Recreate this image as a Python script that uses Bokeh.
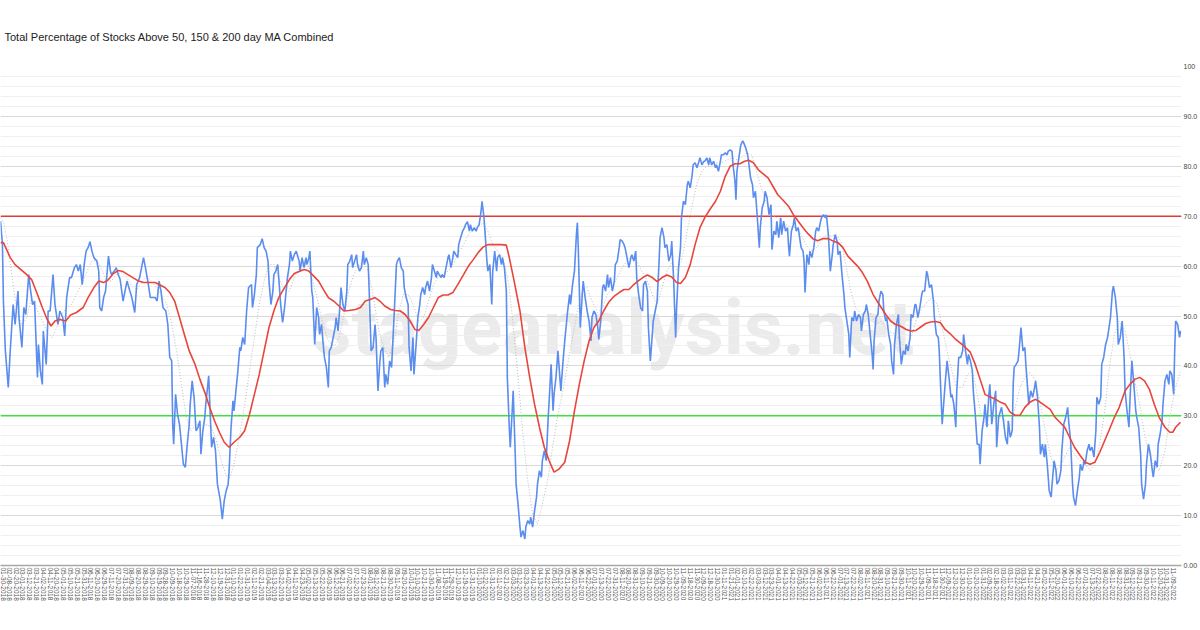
import math
import pandas as pd
from bokeh.plotting import figure
from bokeh.models import Range1d, FixedTicker, Span, Label, AllLabels
from bokeh.embed import file_html
from bokeh.resources import INLINE

title_text = "Total Percentage of Stocks Above 50, 150 & 200 day MA Combined"
watermark_text = "stageanalysis.net"

# trading calendar (x axis = trading-day number, day 0 = 01-30-2018)
first_day = "2018-01-30"
last_day = "2022-12-30"
nyse_holidays = [
    "2018-01-01", "2018-01-15", "2018-02-19", "2018-03-30", "2018-05-28", "2018-07-04",
    "2018-09-03", "2018-11-22", "2018-12-05", "2018-12-25",
    "2019-01-01", "2019-01-21", "2019-02-18", "2019-04-19", "2019-05-27", "2019-07-04",
    "2019-09-02", "2019-11-28", "2019-12-25",
    "2020-01-01", "2020-01-20", "2020-02-17", "2020-04-10", "2020-05-25", "2020-07-03",
    "2020-09-07", "2020-11-26", "2020-12-25",
    "2021-01-01", "2021-01-18", "2021-02-15", "2021-04-02", "2021-05-31", "2021-07-05",
    "2021-09-06", "2021-11-25", "2021-12-24",
    "2022-01-17", "2022-02-21", "2022-04-15", "2022-05-30", "2022-06-20", "2022-07-04",
    "2022-09-05", "2022-11-24", "2022-12-26",
]
label_every = 7
last_label_day = 1205
x_start, x_end = -2, 1212

# percentage of stocks above 50, 150 & 200 day MA combined (blue)
blue_day = [
    -2, 0, 1, 3, 6, 8, 11, 13, 16, 17,
    20, 22, 24, 27, 29, 31, 33, 36, 37, 39,
    41, 42, 45, 47, 49, 52, 54, 57, 59, 62,
    64, 66, 69, 71, 74, 76, 78, 80, 82, 84,
    86, 88, 90, 92, 94, 97, 99, 100, 102, 104,
    106, 109, 111, 112, 115, 117, 119, 121, 124, 126,
    128, 131, 133, 136, 138, 141, 143, 145, 147, 150,
    152, 155, 157, 159, 161, 163, 165, 168, 170, 172,
    174, 175, 176, 178, 180, 182, 184, 186, 188, 190,
    192, 193, 195, 197, 199, 201, 203, 204, 206, 208,
    209, 212, 214, 215, 217, 219, 221, 224, 226, 228,
    230, 232, 233, 235, 237, 238, 240, 242, 244, 245,
    247, 249, 251, 253, 256, 257, 259, 261, 262, 265,
    267, 269, 271, 273, 274, 276, 278, 279, 281, 283,
    284, 286, 288, 290, 291, 293, 295, 296, 298, 300,
    302, 305, 306, 308, 310, 312, 313, 315, 316, 318,
    319, 321, 323, 325, 326, 328, 330, 331, 333, 335,
    336, 338, 340, 342, 343, 345, 347, 348, 350, 352,
    354, 355, 357, 359, 360, 362, 364, 365, 367, 369,
    371, 372, 374, 376, 377, 379, 381, 383, 384, 386,
    388, 389, 391, 393, 394, 396, 398, 400, 401, 403,
    405, 406, 408, 410, 412, 413, 415, 417, 418, 420,
    422, 423, 425, 427, 429, 430, 432, 434, 435, 437,
    439, 441, 442, 444, 446, 447, 449, 451, 452, 454,
    456, 458, 459, 461, 463, 464, 466, 468, 469, 471,
    473, 475, 476, 478, 480, 481, 483, 485, 487, 488,
    490, 492, 493, 495, 496, 498, 499, 501, 503, 504,
    506, 508, 509, 511, 513, 514, 516, 518, 519, 521,
    522, 524, 525, 527, 528, 530, 532, 533, 535, 537,
    538, 540, 542, 543, 545, 547, 549, 550, 552, 554,
    555, 557, 559, 561, 562, 564, 566, 567, 569, 571,
    572, 574, 576, 578, 579, 581, 583, 584, 586, 588,
    590, 591, 592, 594, 596, 597, 599, 601, 603, 605,
    606, 608, 610, 612, 613, 615, 617, 618, 620, 622,
    623, 625, 627, 629, 630, 632, 634, 635, 637, 639,
    640, 642, 644, 646, 647, 649, 651, 652, 654, 656,
    658, 659, 661, 663, 664, 666, 668, 669, 671, 673,
    675, 676, 678, 680, 681, 683, 685, 687, 688, 690,
    692, 693, 695, 697, 698, 700, 702, 704, 705, 707,
    709, 710, 712, 714, 716, 717, 719, 721, 722, 724,
    726, 727, 729, 731, 733, 734, 736, 738, 739, 741,
    743, 745, 746, 748, 750, 751, 753, 754, 755, 757,
    759, 761, 762, 764, 766, 767, 769, 771, 772, 774,
    776, 778, 779, 781, 783, 784, 786, 788, 790, 791,
    793, 795, 796, 798, 800, 801, 803, 805, 807, 808,
    809, 811, 813, 814, 816, 818, 820, 821, 823, 824,
    825, 827, 829, 830, 832, 834, 836, 837, 839, 841,
    842, 844, 846, 847, 849, 851, 853, 854, 856, 858,
    859, 861, 863, 865, 866, 868, 870, 871, 873, 875,
    876, 878, 880, 882, 883, 885, 887, 888, 890, 892,
    894, 895, 896, 898, 900, 901, 903, 905, 906, 908,
    909, 911, 913, 914, 916, 917, 919, 921, 922, 924,
    926, 928, 929, 931, 933, 934, 936, 938, 939, 941,
    943, 945, 946, 948, 950, 951, 953, 955, 957, 958,
    960, 962, 963, 964, 966, 968, 969, 971, 973, 975,
    976, 978, 980, 981, 983, 985, 987, 988, 990, 992,
    993, 995, 997, 998, 1000, 1002, 1004, 1005, 1007, 1009,
    1010, 1012, 1014, 1015, 1017, 1019, 1021, 1022, 1024, 1026,
    1027, 1029, 1031, 1033, 1034, 1036, 1038, 1039, 1040, 1042,
    1044, 1045, 1047, 1049, 1051, 1052, 1054, 1055, 1057, 1059,
    1061, 1062, 1064, 1066, 1067, 1069, 1071, 1072, 1074, 1076,
    1078, 1079, 1081, 1083, 1084, 1086, 1088, 1089, 1091, 1093,
    1095, 1096, 1098, 1100, 1101, 1103, 1105, 1107, 1108, 1110,
    1112, 1113, 1115, 1117, 1118, 1120, 1122, 1124, 1125, 1127,
    1129, 1130, 1132, 1134, 1136, 1137, 1139, 1141, 1142, 1144,
    1146, 1147, 1149, 1151, 1153, 1154, 1156, 1158, 1159, 1161,
    1163, 1165, 1166, 1168, 1170, 1171, 1173, 1175, 1176, 1178,
    1180, 1182, 1183, 1185, 1187, 1188, 1190, 1192, 1193, 1195,
    1197, 1199, 1200, 1202, 1204, 1205, 1206, 1208, 1210, 1211,
]
blue_pct = [
    69.0, 64.3, 53.0, 43.0, 35.7, 43.0, 52.3, 48.3, 55.0, 49.7,
    43.7, 51.7, 50.3, 58.3, 55.0, 52.3, 53.0, 37.7, 44.3, 39.0,
    36.3, 47.0, 40.3, 51.0, 51.0, 58.3, 52.3, 48.3, 51.0, 49.7,
    46.0, 53.7, 57.7, 57.7, 59.7, 60.3, 59.0, 60.3, 56.3, 60.3,
    63.0, 63.7, 64.9, 63.0, 61.7, 61.0, 59.0, 51.7, 51.0, 53.7,
    55.0, 62.0, 59.0, 58.3, 59.0, 59.7, 58.3, 57.3, 53.0, 55.0,
    57.0, 55.0, 53.7, 50.7, 56.3, 57.7, 59.7, 61.7, 59.7, 56.3,
    53.7, 53.7, 53.7, 53.0, 57.0, 55.0, 51.7, 51.0, 48.3, 41.7,
    41.0, 28.3, 24.3, 34.3, 30.3, 28.3, 24.3, 20.3, 19.7, 24.3,
    28.3, 32.3, 37.0, 33.7, 27.0, 27.7, 29.0, 22.3, 27.0, 29.7,
    32.3, 38.0, 28.3, 23.7, 25.7, 23.0, 16.3, 13.0, 9.3, 13.0,
    15.0, 16.3, 19.0, 27.7, 33.0, 31.0, 35.0, 39.0, 43.7, 43.0,
    45.7, 44.3, 51.0, 55.7, 56.3, 51.7, 54.3, 58.3, 63.7, 64.3,
    65.5, 63.7, 63.0, 61.0, 57.0, 52.3, 55.0, 58.3, 59.0, 60.3,
    57.7, 52.3, 48.7, 51.7, 53.7, 57.7, 60.3, 63.0, 61.0, 62.3,
    63.0, 61.0, 59.0, 61.7, 59.7, 61.7, 60.3, 61.7, 63.0, 55.0,
    53.7, 44.3, 51.7, 49.7, 46.3, 48.3, 43.7, 41.7, 39.7, 35.7,
    43.0, 43.7, 45.7, 47.7, 49.7, 47.0, 52.3, 55.7, 52.3, 51.0,
    55.0, 60.3, 61.0, 62.3, 59.7, 61.0, 62.3, 60.3, 59.0, 59.7,
    63.0, 60.3, 61.7, 60.3, 55.0, 43.0, 43.7, 48.3, 45.7, 35.0,
    41.0, 43.0, 43.7, 35.7, 38.3, 36.3, 41.0, 39.7, 43.7, 51.7,
    60.3, 61.0, 61.7, 59.7, 59.0, 55.7, 53.7, 52.3, 43.7, 39.0,
    45.7, 38.3, 43.7, 49.7, 52.3, 54.3, 55.7, 54.3, 55.7, 57.0,
    55.0, 57.7, 60.3, 59.0, 57.7, 59.0, 58.3, 57.7, 58.3, 57.7,
    59.7, 61.7, 62.3, 59.7, 61.7, 63.0, 62.3, 61.7, 64.3, 65.7,
    67.0, 67.7, 68.3, 68.9, 67.0, 68.3, 67.0, 67.7, 67.0, 67.7,
    68.3, 71.0, 73.0, 69.7, 67.0, 61.0, 59.0, 60.3, 52.3, 59.0,
    63.0, 59.0, 61.7, 62.3, 60.3, 61.7, 59.7, 55.0, 37.7, 27.7,
    23.7, 31.0, 35.0, 23.0, 16.3, 12.3, 7.7, 5.7, 7.0, 5.3,
    7.7, 9.0, 8.3, 9.7, 7.7, 11.0, 13.7, 16.3, 19.0, 17.7,
    21.0, 23.0, 21.0, 29.7, 33.0, 40.3, 31.0, 34.3, 37.7, 43.0,
    40.3, 35.0, 40.3, 45.0, 47.0, 51.0, 54.3, 52.3, 56.3, 59.0,
    66.3, 68.7, 63.0, 47.7, 54.3, 57.0, 53.7, 51.0, 49.0, 45.0,
    49.7, 51.0, 50.3, 47.7, 45.3, 49.0, 55.7, 56.3, 55.0, 58.3,
    55.7, 57.7, 55.0, 57.0, 60.3, 61.0, 63.7, 65.3, 65.0, 64.3,
    63.7, 61.7, 59.7, 61.7, 62.3, 61.0, 63.0, 57.7, 54.3, 51.7,
    51.0, 56.3, 57.0, 55.0, 47.7, 41.0, 46.3, 49.0, 51.0, 53.0,
    61.0, 65.7, 67.7, 65.7, 63.7, 64.3, 61.0, 62.3, 65.0, 57.0,
    45.7, 51.7, 59.7, 63.7, 69.7, 73.0, 72.3, 76.3, 77.0, 75.7,
    78.3, 80.3, 80.7, 79.7, 81.0, 81.7, 80.3, 81.0, 81.0, 81.7,
    80.3, 81.7, 80.3, 81.0, 79.7, 80.3, 79.0, 81.0, 82.3, 82.3,
    82.7, 82.3, 83.0, 83.3, 83.0, 80.3, 77.0, 73.3, 79.0, 81.7,
    84.3, 85.1, 84.7, 83.7, 82.3, 81.0, 77.7, 76.3, 73.7, 75.0,
    69.7, 63.7, 67.7, 71.7, 73.0, 75.0, 73.7, 70.3, 72.3, 63.3,
    67.0, 66.3, 69.0, 65.7, 69.7, 66.3, 69.0, 67.0, 67.7, 64.3,
    62.0, 67.0, 68.3, 69.7, 67.0, 67.7, 65.0, 63.7, 63.0, 61.0,
    54.7, 62.3, 60.3, 63.0, 61.7, 63.7, 67.0, 67.7, 67.0, 69.0,
    69.7, 70.3, 69.7, 70.3, 66.3, 59.0, 62.3, 64.3, 66.3, 65.0,
    62.3, 63.0, 58.3, 54.3, 51.7, 49.0, 46.3, 41.7, 49.7, 49.0,
    51.0, 49.0, 50.3, 49.7, 47.0, 50.3, 51.0, 52.3, 50.3, 46.3,
    42.3, 39.3, 45.0, 49.7, 50.3, 53.0, 55.0, 54.3, 51.0, 49.0,
    49.7, 46.3, 44.3, 41.0, 38.3, 44.3, 48.3, 50.3, 45.7, 40.3,
    43.0, 42.3, 44.3, 43.0, 45.7, 50.3, 49.7, 52.3, 52.3, 49.7,
    51.7, 54.3, 55.0, 55.0, 59.0, 58.3, 55.7, 56.3, 53.0, 49.7,
    46.3, 45.7, 43.0, 37.7, 28.3, 33.7, 36.3, 41.0, 37.7, 33.7,
    34.3, 32.3, 27.7, 35.0, 41.7, 41.7, 43.0, 46.3, 43.0, 40.3,
    42.3, 41.0, 39.0, 35.0, 30.3, 24.3, 24.3, 20.3, 27.0, 29.7,
    32.3, 27.7, 34.3, 36.3, 28.3, 32.3, 35.0, 23.7, 29.7, 31.0,
    31.7, 29.0, 25.7, 24.3, 29.0, 25.7, 27.0, 36.3, 39.7, 40.3,
    41.0, 43.0, 47.7, 43.0, 43.7, 40.3, 35.0, 32.3, 35.0, 33.7,
    35.7, 37.0, 33.7, 27.7, 22.3, 24.3, 21.7, 24.3, 20.3, 15.0,
    13.7, 16.3, 21.0, 19.0, 16.3, 17.0, 19.0, 23.0, 28.3, 29.7,
    31.7, 29.0, 25.0, 16.3, 13.7, 12.0, 15.0, 17.7, 20.3, 19.0,
    21.0, 20.3, 23.0, 24.3, 23.0, 23.7, 21.7, 27.0, 33.7, 32.3,
    33.7, 40.3, 41.7, 44.3, 45.7, 47.0, 49.7, 55.0, 56.0, 53.7,
    49.7, 44.3, 45.7, 49.0, 41.7, 35.0, 31.0, 27.7, 33.0, 41.0,
    36.3, 31.0, 29.7, 27.7, 22.3, 16.3, 13.3, 16.3, 20.3, 24.3,
    22.3, 19.0, 17.7, 21.0, 19.7, 24.3, 26.3, 29.0, 32.3, 37.0,
    38.3, 36.3, 39.0, 38.3, 34.3, 43.0, 49.0, 48.3, 45.7, 47.0,
]

# short moving average (grey dotted)
grey_day = [
    -2, 1, 5, 10, 15, 20, 25, 30, 36, 41,
    46, 51, 56, 61, 66, 71, 76, 82, 87, 92,
    97, 102, 107, 112, 117, 123, 128, 133, 138, 143,
    148, 153, 158, 163, 169, 174, 179, 184, 189, 194,
    199, 204, 209, 215, 220, 225, 230, 234, 238, 244,
    249, 254, 259, 264, 269, 274, 279, 284, 290, 295,
    300, 305, 310, 315, 320, 325, 330, 335, 341, 346,
    351, 356, 361, 366, 371, 376, 382, 387, 392, 397,
    402, 407, 412, 417, 422, 428, 433, 438, 443, 448,
    453, 458, 463, 468, 474, 479, 484, 489, 494, 499,
    504, 509, 514, 520, 525, 530, 535, 540, 545, 550,
    555, 561, 566, 571, 576, 581, 586, 591, 596, 601,
    606, 612, 617, 622, 627, 632, 637, 642, 647, 652,
    658, 663, 668, 673, 678, 683, 688, 693, 698, 704,
    709, 714, 719, 724, 729, 734, 739, 745, 750, 755,
    760, 765, 770, 775, 780, 785, 791, 796, 801, 806,
    811, 816, 821, 826, 831, 837, 842, 847, 852, 857,
    862, 867, 872, 877, 883, 888, 893, 898, 903, 911,
    918, 925, 930, 935, 940, 946, 951, 956, 961, 966,
    971, 976, 981, 987, 992, 997, 1000, 1005, 1010, 1015,
    1021, 1026, 1031, 1036, 1041, 1046, 1051, 1056, 1062, 1067,
    1072, 1077, 1082, 1087, 1092, 1097, 1102, 1108, 1113, 1118,
    1123, 1128, 1133, 1138, 1143, 1148, 1154, 1159, 1164, 1169,
    1174, 1179, 1184, 1189, 1195, 1200, 1205, 1211,
]
grey_pct = [
    69.7, 69.0, 65.0, 57.7, 51.0, 48.0, 49.7, 53.7, 51.0, 49.0,
    46.7, 45.7, 47.7, 50.3, 51.7, 52.3, 54.3, 56.7, 59.0, 61.0,
    61.3, 59.3, 57.0, 57.0, 58.3, 58.7, 57.7, 56.0, 55.3, 56.7,
    58.0, 57.0, 55.7, 54.3, 52.3, 48.3, 43.0, 36.3, 29.7, 27.0,
    28.3, 28.3, 28.3, 27.7, 25.0, 21.0, 18.0, 17.7, 20.3, 26.3,
    32.3, 39.0, 45.7, 52.3, 57.0, 60.3, 60.3, 57.7, 55.0, 55.0,
    57.7, 59.7, 60.3, 60.0, 56.3, 52.3, 47.7, 45.0, 44.0, 45.7,
    50.3, 55.0, 58.3, 60.0, 61.0, 59.0, 53.0, 47.0, 43.7, 41.7,
    44.3, 50.3, 54.3, 54.3, 52.3, 49.0, 49.7, 53.0, 56.3, 57.7,
    58.3, 59.0, 60.3, 62.3, 64.3, 66.3, 67.3, 67.8, 68.7, 67.0,
    64.3, 63.0, 61.7, 57.0, 48.3, 37.7, 26.3, 17.0, 10.3, 8.3,
    12.3, 17.7, 24.3, 30.3, 35.0, 40.3, 45.7, 51.0, 55.0, 55.7,
    53.0, 50.7, 51.7, 54.3, 55.7, 57.7, 59.7, 61.0, 62.3, 61.0,
    58.7, 57.0, 54.3, 52.3, 55.7, 59.0, 60.7, 59.3, 61.0, 67.0,
    72.3, 76.7, 79.0, 80.0, 80.3, 80.7, 80.7, 81.3, 81.7, 81.3,
    81.7, 82.7, 82.3, 79.0, 75.7, 73.0, 70.3, 69.7, 69.0, 68.3,
    67.7, 67.7, 66.3, 64.3, 63.0, 63.7, 65.0, 66.3, 66.0, 66.3,
    65.0, 60.3, 55.0, 51.7, 50.3, 51.0, 50.3, 48.3, 49.0, 47.0,
    46.3, 44.3, 43.7, 46.3, 49.7, 51.7, 53.0, 53.7, 52.3, 47.7,
    43.0, 39.0, 35.7, 35.7, 38.3, 39.0, 36.3, 31.0, 28.3, 28.3,
    29.7, 29.7, 29.0, 28.3, 31.7, 35.7, 37.7, 38.7, 37.0, 32.3,
    27.0, 22.3, 19.0, 19.7, 21.7, 23.7, 22.3, 21.0, 20.3, 19.0,
    20.3, 24.3, 31.0, 39.7, 46.3, 49.0, 47.0, 42.3, 37.0, 32.3,
    26.3, 22.3, 19.7, 19.0, 23.0, 29.7, 35.0, 39.0,
]

# long moving average (red)
red_day = [
    -2, 1, 5, 8, 13, 19, 25, 30, 36, 41,
    46, 50, 54, 59, 65, 70, 76, 83, 88, 94,
    99, 104, 109, 114, 119, 124, 129, 134, 140, 145,
    152, 157, 162, 167, 172, 177, 182, 187, 192, 198,
    203, 208, 213, 218, 223, 228, 233, 238, 244, 249,
    254, 259, 264, 269, 274, 279, 284, 290, 295, 300,
    305, 310, 315, 320, 325, 330, 335, 341, 346, 351,
    356, 363, 368, 373, 378, 383, 388, 393, 399, 404,
    409, 414, 419, 424, 428, 433, 438, 443, 448, 453,
    458, 463, 468, 474, 479, 484, 489, 494, 499, 506,
    513, 518, 521, 526, 532, 537, 542, 547, 552, 557,
    562, 567, 572, 578, 583, 588, 593, 598, 603, 608,
    613, 618, 623, 629, 634, 639, 644, 649, 654, 659,
    663, 668, 673, 678, 683, 688, 693, 697, 702, 707,
    712, 717, 722, 727, 733, 738, 743, 748, 753, 758,
    763, 767, 772, 777, 782, 787, 792, 797, 802, 808,
    813, 818, 823, 828, 833, 838, 843, 849, 854, 859,
    864, 869, 874, 879, 884, 889, 895, 900, 908, 913,
    918, 923, 929, 934, 939, 944, 949, 954, 959, 964,
    969, 975, 980, 985, 990, 995, 1000, 1005, 1010, 1015,
    1021, 1026, 1031, 1036, 1041, 1046, 1051, 1056, 1062, 1067,
    1072, 1077, 1082, 1087, 1092, 1097, 1102, 1108, 1113, 1118,
    1123, 1128, 1133, 1138, 1143, 1148, 1154, 1159, 1164, 1169,
    1174, 1179, 1184, 1189, 1195, 1200, 1203, 1206, 1211,
]
red_pct = [
    64.7, 64.7, 63.0, 61.7, 60.3, 59.3, 58.3, 57.3, 54.3, 51.7,
    49.3, 48.0, 49.0, 49.3, 49.0, 50.2, 50.7, 51.7, 53.7, 55.7,
    57.0, 56.7, 57.3, 58.5, 59.1, 58.9, 58.3, 57.7, 57.0, 56.7,
    56.7, 56.7, 56.2, 55.7, 54.7, 53.0, 49.7, 46.3, 43.0, 40.3,
    37.3, 34.7, 31.7, 29.0, 26.7, 24.7, 23.7, 24.7, 25.7, 27.0,
    30.3, 34.3, 38.3, 43.0, 47.7, 51.0, 53.7, 55.7, 57.3, 58.5,
    58.9, 59.3, 59.0, 58.0, 57.0, 55.3, 53.7, 52.9, 52.0, 51.0,
    51.1, 51.3, 51.7, 53.0, 53.3, 53.7, 53.0, 52.0, 51.3, 51.1,
    51.0, 50.3, 49.0, 47.3, 47.1, 48.3, 49.7, 51.7, 53.7, 54.2,
    54.2, 54.7, 56.3, 58.3, 60.0, 61.3, 62.7, 63.8, 64.3, 64.3,
    64.3, 64.2, 61.7, 57.0, 51.0, 43.7, 37.7, 32.3, 27.7, 23.7,
    21.0, 18.7, 19.3, 20.7, 25.0, 31.0, 36.3, 41.0, 45.0, 47.7,
    49.0, 51.0, 52.7, 54.0, 54.7, 55.3, 55.3, 56.3, 57.1, 57.8,
    58.2, 57.7, 56.9, 57.7, 58.2, 57.8, 56.7, 56.5, 57.7, 60.3,
    64.3, 67.7, 69.7, 71.3, 73.0, 75.0, 78.0, 80.0, 80.5, 80.5,
    81.0, 81.2, 80.7, 79.3, 78.5, 77.7, 76.0, 74.3, 73.3, 72.0,
    70.3, 69.0, 67.7, 66.5, 65.5, 65.1, 65.5, 65.5, 65.0, 64.7,
    63.7, 62.0, 61.0, 60.0, 58.7, 57.0, 54.3, 52.7, 50.3, 49.0,
    48.3, 48.0, 47.3, 47.0, 47.1, 47.8, 48.5, 48.8, 48.9, 48.7,
    47.3, 46.3, 45.3, 44.5, 43.7, 42.7, 40.3, 37.3, 34.3, 33.8,
    33.3, 32.7, 32.3, 30.7, 30.1, 30.1, 31.7, 32.7, 33.3, 32.7,
    32.0, 31.3, 29.7, 28.7, 27.7, 25.7, 23.7, 22.0, 20.7, 20.3,
    20.7, 22.7, 25.0, 27.3, 29.7, 31.7, 35.0, 36.3, 37.3, 37.7,
    37.0, 35.3, 32.3, 29.7, 27.7, 26.7, 26.7, 27.7, 28.7,
]

upper_level = 70
lower_level = 30
y_ticks = [0, 10, 20, 30, 40, 50, 60, 70, 80, 90, 100]
y_tick_labels = ["0.00", "10.0", "20.0", "30.0", "40.0", "50.0", "60.0", "70.0", "80.0", "90.0", "100"]
y_minor_step = 2

assert len(blue_day) == len(blue_pct)
assert len(grey_day) == len(grey_pct)
assert len(red_day) == len(red_pct)

trading_days = pd.bdate_range(first_day, last_day, freq="C", holidays=nyse_holidays)
tick_idx = list(range(0, last_label_day, label_every))
tick_labels = [trading_days[i].strftime("%m-%d-%Y") for i in tick_idx]

p = figure(width=1200, height=610, x_range=Range1d(x_start, x_end), y_range=Range1d(0, 100),
           y_axis_location="right", toolbar_location=None, output_backend="svg",
           min_border_left=0, min_border_right=0, min_border_top=66, min_border_bottom=45)
p.outline_line_color = None
p.background_fill_color = "white"
p.border_fill_color = "white"

p.title.text = title_text
p.title.text_font = "Liberation Sans"
p.title.text_font_size = "11px"
p.title.text_font_style = "normal"
p.title.text_color = "#222222"
p.title.align = "left"
p.title.offset = 4
p.title.standoff = 48

# y axis on the right
yt = FixedTicker(ticks=y_ticks, minor_ticks=list(range(0, 101, y_minor_step)))
p.yaxis.ticker = yt
p.ygrid.ticker = yt
p.yaxis.major_label_overrides = dict(zip(y_ticks, y_tick_labels))
p.yaxis.axis_line_color = None
p.yaxis.major_tick_line_color = None
p.yaxis.minor_tick_line_color = None
p.yaxis.major_tick_out = 0
p.yaxis.major_tick_in = 0
p.yaxis.minor_tick_out = 0
p.yaxis.major_label_standoff = 2
p.yaxis.major_label_text_font = "Liberation Sans"
p.yaxis.major_label_text_font_size = "7px"
p.yaxis.major_label_text_color = "#444444"
p.ygrid.grid_line_color = "#d9d9d9"
p.ygrid.minor_grid_line_color = "#efefef"
p.xgrid.grid_line_color = None

# x axis dates
p.xaxis.ticker = FixedTicker(ticks=tick_idx)
p.xaxis.major_label_overrides = dict(zip(tick_idx, tick_labels))
p.xaxis.major_label_orientation = -math.pi / 2
p.xaxis.major_label_policy = AllLabels()
p.xaxis.major_label_text_font = "Liberation Sans"
p.xaxis.major_label_text_font_size = "6.5px"
p.xaxis.major_label_text_color = "#555555"
p.xaxis.major_label_standoff = 2
p.xaxis.axis_line_color = "#a8a8a8"
p.xaxis.axis_line_width = 1.5
p.xaxis.major_tick_line_color = None
p.xaxis.minor_tick_line_color = None
p.xaxis.major_tick_out = 0
p.xaxis.major_tick_in = 0

wm = Label(x=628, y=47.6, text=watermark_text, text_font="Roboto",
           text_font_style="bold", text_font_size="76px", text_color="#ebebeb",
           text_align="center", text_baseline="alphabetic", level="image")
p.add_layout(wm)

p.add_layout(Span(location=upper_level, dimension="width", line_color="#e53935",
                  line_width=1.6, level="underlay"))
p.add_layout(Span(location=lower_level, dimension="width", line_color="#3ee03e",
                  line_width=1.6, level="underlay"))

p.line(grey_day, grey_pct, line_color="#bdbdbd", line_width=1, line_dash="1 2")
p.line(blue_day, blue_pct, line_color="#5b8def", line_width=1.6)
p.line(red_day, red_pct, line_color="#e8453c", line_width=1.6)

open("out.html", "w").write(file_html(p, INLINE))
